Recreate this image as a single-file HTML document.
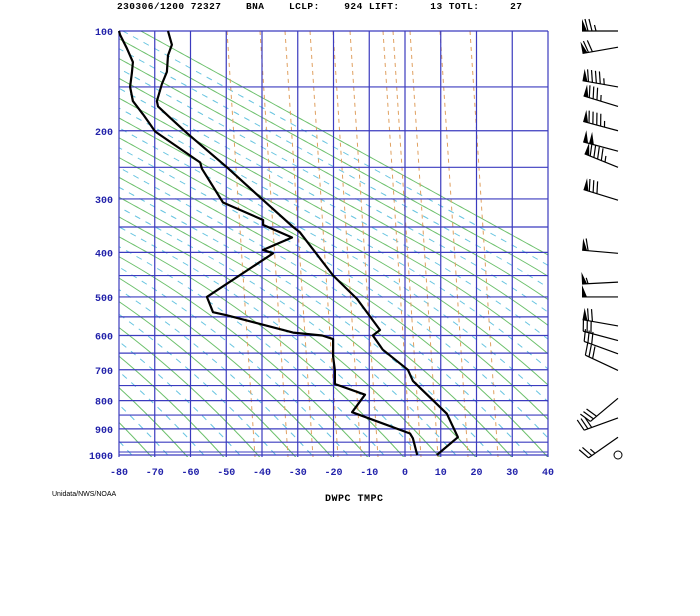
<!DOCTYPE html>
<html><head><meta charset="utf-8"><style>
html,body{margin:0;padding:0;background:#fff;}
svg{display:block;}
text{font-family:"Liberation Mono",monospace;font-weight:bold;}
</style></head><body>
<svg id="chart" width="700" height="616" viewBox="0 0 700 616" xmlns="http://www.w3.org/2000/svg">
<defs><clipPath id="plotclip"><rect x="119" y="31" width="429" height="426"/></clipPath></defs>
<text x="117" y="9" font-size="9.5" fill="#000" xml:space="preserve" textLength="405" lengthAdjust="spacing">230306/1200 72327    BNA    LCLP:    924 LIFT:     13 TOTL:     27</text>
<g id="bg" clip-path="url(#plotclip)"></g>
<g id="grid"></g>
<g id="profiles"></g>
<g id="axes"></g>
<g id="winds"></g>
<text x="52" y="496" font-size="7" fill="#000" style="font-family:'Liberation Sans',sans-serif;font-weight:normal">Unidata/NWS/NOAA</text>
<text x="325" y="501" font-size="10" fill="#000" textLength="58" lengthAdjust="spacing">DWPC TMPC</text>
</svg>
<script>
// ---- data ----
const tempP = [100,111,120,135,147,165,171,184,203,250,302,350,360,450,505,585,600,640,700,735,845,931,1000];
const tempT = [-66.3,-65.2,-66.3,-66.6,-68,-69.4,-69.1,-65.7,-61,-49.8,-39.7,-31.3,-29.4,-20.1,-13.4,-7,-9,-6.2,0.8,2.2,11.7,14.8,8.9];
const dewP = [100,103,114,126,136,150,165,180,192,201,243,252,306,337,346,370,395,402,500,538,546,592,600,610,660,702,745,780,840,917,935,1000];
const dewT = [-80,-79.7,-77.8,-76.1,-76.4,-76.9,-76.1,-73.3,-71.3,-69.9,-57.3,-56.8,-50.9,-39.7,-39.7,-31.6,-39.7,-36.9,-55.4,-53.7,-49.8,-31.3,-23.2,-20.1,-20.1,-19.6,-19.6,-11.2,-14.8,1.4,2.2,3.4];
const windP = [100,113,150,171,200,227,250,302,402,465,500,574,614,652,702,792,860,931,1000];
const windDir = [270,260,280,287,285,285,292,287,275,267,270,280,285,290,295,230,250,235,0];
const windSpd = [75,70,95,85,95,100,95,80,60,55,50,70,30,30,30,30,30,25,0];
const xTicks = [-80,-70,-60,-50,-40,-30,-20,-10,0,10,20,30,40];
const pTicks = [100,200,300,400,500,600,700,800,900,1000];
const isobars = [100,150,200,250,300,350,400,450,500,550,600,650,700,750,800,850,900,950,1000];
const mixTop = [227,260,285,310,333,350,383,393,410,440,470];

const NS='http://www.w3.org/2000/svg';
const K=0.286, P0=Math.pow(100,K), P1=Math.pow(1000,K);
function xOf(t){return 119+(t+80)*3.575;}
function yOf(p){return 31+424*(Math.pow(p,K)-P0)/(P1-P0);}
function mk(tag,attrs,parent){const e=document.createElementNS(NS,tag);for(const k in attrs)e.setAttribute(k,attrs[k]);parent.appendChild(e);return e;}
const bg=document.getElementById('bg'),grid=document.getElementById('grid'),prof=document.getElementById('profiles'),axes=document.getElementById('axes'),winds=document.getElementById('winds');

function slope(y){return y<250?0.55:0.55+(y-250)*0.0027;}
function curve(x255,dx){let pts=[];let x=x255;for(let y=255;y>=25;y-=2){pts.unshift([x+dx,y]);x-=2/slope(y);}x=x255;for(let y=255;y<=460;y+=2){pts.push([x+dx,y]);x+=2/slope(y);}return pts.map(p=>p[0].toFixed(1)+','+p[1]).join(' ');}
for(let k=0;k<=24;k++){
  const l=mk('polyline',{points:curve(548-36*k,0),fill:'none',stroke:'#6cc06c','stroke-width':1},bg);
  
  
  if(k>0){const m=mk('polyline',{points:curve(548-36*k,18),fill:'none',stroke:'#66c4e0','stroke-width':1,'stroke-dasharray':'6,6'},bg);
  
  }
}
mixTop.forEach(x=>{
  const l=mk('line',{x1:x,y1:31,x2:x+28,y2:457,stroke:'#e0a060','stroke-width':1,'stroke-dasharray':'4,4'},bg);
  
  
});

isobars.forEach(p=>{const y=yOf(p);
  const l=mk('line',{x1:119,y1:y,x2:548,y2:y,stroke:'#3b3bbf','stroke-width':1.2},grid);
  
  });
mk('line',{x1:119,y1:yOf(1000)-3,x2:548,y2:yOf(1000)-3,stroke:'#3b3bbf','stroke-width':1},grid);
xTicks.forEach(t=>{const x=xOf(t);
  const l=mk('line',{x1:x,y1:31,x2:x,y2:457,stroke:'#3b3bbf','stroke-width':1.2},grid);
  
  
  const tx=mk('text',{x:x,y:475,'font-size':10,'text-anchor':'middle',fill:'#2222aa'},axes);tx.textContent=t;
  
  });
pTicks.forEach(p=>{const tx=mk('text',{x:113,y:yOf(p)+4,'font-size':10,'text-anchor':'end',fill:'#2222aa'},axes);tx.textContent=p;
  
  });

function line(P,T,name){const pts=P.map((p,i)=>xOf(T[i]).toFixed(1)+','+yOf(p).toFixed(1)).join(' ');
  const l=mk('polyline',{points:pts,fill:'none',stroke:'#000','stroke-width':2.2,'stroke-linejoin':'round'},prof);
  
  }
line(tempP,tempT,'temperature-line');
line(dewP,dewT,'dewpoint-line');

windP.forEach((p,i)=>{
  const sx=618,sy=yOf(p),spd=windSpd[i],d=windDir[i]*Math.PI/180;
  const g=mk('g',{},winds);
  
  
  if(spd<3){mk('circle',{cx:sx,cy:sy,r:4,fill:'none',stroke:'#000','stroke-width':1},g);return;}
  const ux=Math.sin(d),uy=-Math.cos(d),nx=-uy,ny=ux;
  const L=36,tx=sx+ux*L,ty=sy+uy*L;
  mk('line',{x1:sx,y1:sy,x2:tx,y2:ty,stroke:'#000','stroke-width':1.2},g);
  let s=Math.round(spd/5)*5,pos=0;
  while(s>=50){const ax=tx-ux*pos,ay=ty-uy*pos,bx=tx-ux*(pos+5),by=ty-uy*(pos+5);
    mk('polygon',{points:`${ax},${ay} ${ax+nx*12},${ay+ny*12} ${bx},${by}`,fill:'#000'},g);pos+=6;s-=50;}
  while(s>=10){const ax=tx-ux*pos,ay=ty-uy*pos;mk('line',{x1:ax,y1:ay,x2:ax+nx*12+ux*3,y2:ay+ny*12+uy*3,stroke:'#000','stroke-width':1.2},g);pos+=4;s-=10;}
  if(s>=5){const ax=tx-ux*pos,ay=ty-uy*pos;mk('line',{x1:ax,y1:ay,x2:ax+nx*6+ux*1.5,y2:ay+ny*6+uy*1.5,stroke:'#000','stroke-width':1.2},g);}
});
</script>
</body></html>
